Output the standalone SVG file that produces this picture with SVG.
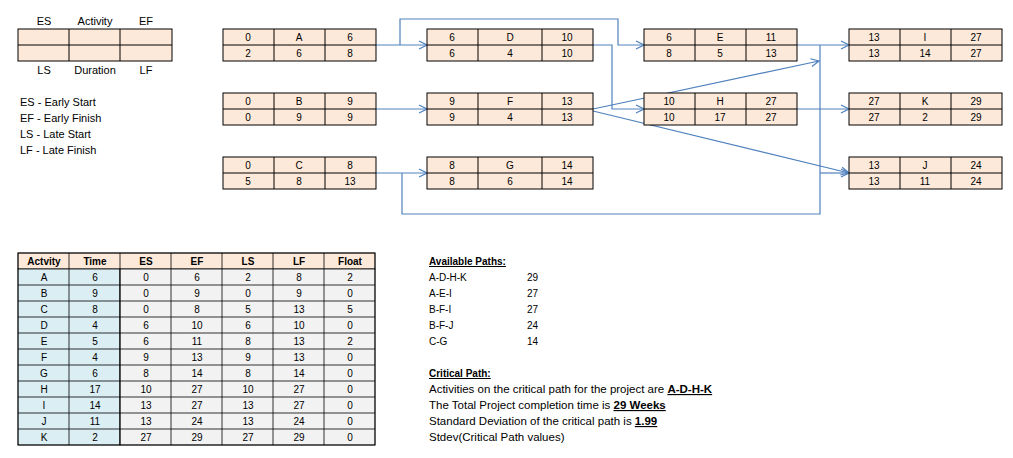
<svg xmlns="http://www.w3.org/2000/svg" width="1013" height="458" viewBox="0 0 1013 458">
<style>
text{font-family:"Liberation Sans",Arial,sans-serif;font-size:10px;fill:#000}
.c{text-anchor:middle}
.n rect{fill:#fde9d9;stroke:#000;stroke-width:1}
.n line{stroke:#000;stroke-width:1}
.e{fill:none;stroke:#4f81bd;stroke-width:1.2}
.t rect{stroke:#000;stroke-width:0.8}
.b{font-weight:bold;text-decoration:underline}
.m{font-size:11.5px}
.l{font-size:11px}
</style>
<defs>
<marker id="ar" markerWidth="10" markerHeight="10" refX="9" refY="5" orient="auto" markerUnits="userSpaceOnUse">
<path d="M1,1 L9,5 L1,9" fill="none" stroke="#4f81bd" stroke-width="1.2"/>
</marker>
</defs>
<rect width="1013" height="458" fill="#fff"/>

<g id="legend">
<g class="n"><rect x="18" y="29" width="154" height="32"/><line x1="18" y1="45" x2="172" y2="45"/><line x1="69" y1="29" x2="69" y2="61"/><line x1="120" y1="29" x2="120" y2="61"/></g>
<text class="c l" x="44" y="25">ES</text><text class="c l" x="95" y="25">Activity</text><text class="c l" x="146" y="25">EF</text>
<text class="c l" x="44" y="74">LS</text><text class="c l" x="95" y="74">Duration</text><text class="c l" x="146" y="74">LF</text>
<text class="l" x="20" y="106">ES - Early Start</text>
<text class="l" x="20" y="122">EF - Early Finish</text>
<text class="l" x="20" y="138">LS - Late Start</text>
<text class="l" x="20" y="154">LF - Late Finish</text>
</g>

<g id="connectors">
<path class="e" d="M376,45 H427" marker-end="url(#ar)"/>
<path class="e" d="M400,45 V19 H618 V45 H644" marker-end="url(#ar)"/>
<path class="e" d="M376,109 H427" marker-end="url(#ar)"/>
<path class="e" d="M376,173 H427" marker-end="url(#ar)"/>
<path class="e" d="M402,173 V214 H820 V45"/>
<path class="e" d="M797,45 H849" marker-end="url(#ar)"/>
<path class="e" d="M820,173 H849" marker-end="url(#ar)"/>
<path class="e" d="M593,45 H612 V109 H644" marker-end="url(#ar)"/>
<path class="e" d="M593,109 L819,61" marker-end="url(#ar)"/>
<path class="e" d="M593,111 L849,173" marker-end="url(#ar)"/>
<path class="e" d="M797,109 H849" marker-end="url(#ar)"/>
</g>

<g id="nodeA" class="n"><rect x="223" y="29" width="153" height="32"/><line x1="223" y1="45" x2="376" y2="45"/><line x1="274" y1="29" x2="274" y2="61"/><line x1="325" y1="29" x2="325" y2="61"/>
<text class="c" x="248" y="41">0</text><text class="c" x="299" y="41">A</text><text class="c" x="350" y="41">6</text><text class="c" x="248" y="57">2</text><text class="c" x="299" y="57">6</text><text class="c" x="350" y="57">8</text></g>
<g id="nodeB" class="n"><rect x="223" y="93" width="153" height="32"/><line x1="223" y1="109" x2="376" y2="109"/><line x1="274" y1="93" x2="274" y2="125"/><line x1="325" y1="93" x2="325" y2="125"/>
<text class="c" x="248" y="105">0</text><text class="c" x="299" y="105">B</text><text class="c" x="350" y="105">9</text><text class="c" x="248" y="121">0</text><text class="c" x="299" y="121">9</text><text class="c" x="350" y="121">9</text></g>
<g id="nodeC" class="n"><rect x="223" y="157" width="153" height="32"/><line x1="223" y1="173" x2="376" y2="173"/><line x1="274" y1="157" x2="274" y2="189"/><line x1="325" y1="157" x2="325" y2="189"/>
<text class="c" x="248" y="169">0</text><text class="c" x="299" y="169">C</text><text class="c" x="350" y="169">8</text><text class="c" x="248" y="185">5</text><text class="c" x="299" y="185">8</text><text class="c" x="350" y="185">13</text></g>

<g id="nodeD" class="n"><rect x="427" y="29" width="166" height="32"/><line x1="427" y1="45" x2="593" y2="45"/><line x1="478" y1="29" x2="478" y2="61"/><line x1="542" y1="29" x2="542" y2="61"/>
<text class="c" x="452" y="41">6</text><text class="c" x="510" y="41">D</text><text class="c" x="567" y="41">10</text><text class="c" x="452" y="57">6</text><text class="c" x="510" y="57">4</text><text class="c" x="567" y="57">10</text></g>
<g id="nodeF" class="n"><rect x="427" y="93" width="166" height="32"/><line x1="427" y1="109" x2="593" y2="109"/><line x1="478" y1="93" x2="478" y2="125"/><line x1="542" y1="93" x2="542" y2="125"/>
<text class="c" x="452" y="105">9</text><text class="c" x="510" y="105">F</text><text class="c" x="567" y="105">13</text><text class="c" x="452" y="121">9</text><text class="c" x="510" y="121">4</text><text class="c" x="567" y="121">13</text></g>
<g id="nodeG" class="n"><rect x="427" y="157" width="166" height="32"/><line x1="427" y1="173" x2="593" y2="173"/><line x1="478" y1="157" x2="478" y2="189"/><line x1="542" y1="157" x2="542" y2="189"/>
<text class="c" x="452" y="169">8</text><text class="c" x="510" y="169">G</text><text class="c" x="567" y="169">14</text><text class="c" x="452" y="185">8</text><text class="c" x="510" y="185">6</text><text class="c" x="567" y="185">14</text></g>

<g id="nodeE" class="n"><rect x="644" y="29" width="153" height="32"/><line x1="644" y1="45" x2="797" y2="45"/><line x1="695" y1="29" x2="695" y2="61"/><line x1="746" y1="29" x2="746" y2="61"/>
<text class="c" x="669" y="41">6</text><text class="c" x="720" y="41">E</text><text class="c" x="771" y="41">11</text><text class="c" x="669" y="57">8</text><text class="c" x="720" y="57">5</text><text class="c" x="771" y="57">13</text></g>
<g id="nodeH" class="n"><rect x="644" y="93" width="153" height="32"/><line x1="644" y1="109" x2="797" y2="109"/><line x1="695" y1="93" x2="695" y2="125"/><line x1="746" y1="93" x2="746" y2="125"/>
<text class="c" x="669" y="105">10</text><text class="c" x="720" y="105">H</text><text class="c" x="771" y="105">27</text><text class="c" x="669" y="121">10</text><text class="c" x="720" y="121">17</text><text class="c" x="771" y="121">27</text></g>

<g id="nodeI" class="n"><rect x="849" y="29" width="153" height="32"/><line x1="849" y1="45" x2="1002" y2="45"/><line x1="900" y1="29" x2="900" y2="61"/><line x1="951" y1="29" x2="951" y2="61"/>
<text class="c" x="874" y="41">13</text><text class="c" x="925" y="41">I</text><text class="c" x="976" y="41">27</text><text class="c" x="874" y="57">13</text><text class="c" x="925" y="57">14</text><text class="c" x="976" y="57">27</text></g>
<g id="nodeK" class="n"><rect x="849" y="93" width="153" height="32"/><line x1="849" y1="109" x2="1002" y2="109"/><line x1="900" y1="93" x2="900" y2="125"/><line x1="951" y1="93" x2="951" y2="125"/>
<text class="c" x="874" y="105">27</text><text class="c" x="925" y="105">K</text><text class="c" x="976" y="105">29</text><text class="c" x="874" y="121">27</text><text class="c" x="925" y="121">2</text><text class="c" x="976" y="121">29</text></g>
<g id="nodeJ" class="n"><rect x="849" y="157" width="153" height="32"/><line x1="849" y1="173" x2="1002" y2="173"/><line x1="900" y1="157" x2="900" y2="189"/><line x1="951" y1="157" x2="951" y2="189"/>
<text class="c" x="874" y="169">13</text><text class="c" x="925" y="169">J</text><text class="c" x="976" y="169">24</text><text class="c" x="874" y="185">13</text><text class="c" x="925" y="185">11</text><text class="c" x="976" y="185">24</text></g>

<g id="table" class="t">
<rect x="18" y="253" width="357" height="16" fill="#fde9d9"/>
<rect x="18" y="269" width="102" height="176" fill="#daeef3"/>
<rect x="120" y="269" width="255" height="176" fill="#f2f2f2"/>
<path d="M18,285H375M18,301H375M18,317H375M18,333H375M18,349H375M18,365H375M18,381H375M18,397H375M18,413H375M18,429H375M69,253V445M120,253V445M171,253V445M222,253V445M273,253V445M324,253V445" stroke="#000" stroke-width="0.8" fill="none"/>
<rect x="18" y="253" width="357" height="192" fill="none" stroke="#000" stroke-width="1"/>
<text class="c" x="44" y="265" font-weight="bold">Actvity</text><text class="c" x="95" y="265" font-weight="bold">Time</text><text class="c" x="146" y="265" font-weight="bold">ES</text><text class="c" x="197" y="265" font-weight="bold">EF</text><text class="c" x="248" y="265" font-weight="bold">LS</text><text class="c" x="299" y="265" font-weight="bold">LF</text><text class="c" x="350" y="265" font-weight="bold">Float</text>
<text class="c" x="44" y="281">A</text><text class="c" x="95" y="281">6</text><text class="c" x="146" y="281">0</text><text class="c" x="197" y="281">6</text><text class="c" x="248" y="281">2</text><text class="c" x="299" y="281">8</text><text class="c" x="350" y="281">2</text>
<text class="c" x="44" y="297">B</text><text class="c" x="95" y="297">9</text><text class="c" x="146" y="297">0</text><text class="c" x="197" y="297">9</text><text class="c" x="248" y="297">0</text><text class="c" x="299" y="297">9</text><text class="c" x="350" y="297">0</text>
<text class="c" x="44" y="313">C</text><text class="c" x="95" y="313">8</text><text class="c" x="146" y="313">0</text><text class="c" x="197" y="313">8</text><text class="c" x="248" y="313">5</text><text class="c" x="299" y="313">13</text><text class="c" x="350" y="313">5</text>
<text class="c" x="44" y="329">D</text><text class="c" x="95" y="329">4</text><text class="c" x="146" y="329">6</text><text class="c" x="197" y="329">10</text><text class="c" x="248" y="329">6</text><text class="c" x="299" y="329">10</text><text class="c" x="350" y="329">0</text>
<text class="c" x="44" y="345">E</text><text class="c" x="95" y="345">5</text><text class="c" x="146" y="345">6</text><text class="c" x="197" y="345">11</text><text class="c" x="248" y="345">8</text><text class="c" x="299" y="345">13</text><text class="c" x="350" y="345">2</text>
<text class="c" x="44" y="361">F</text><text class="c" x="95" y="361">4</text><text class="c" x="146" y="361">9</text><text class="c" x="197" y="361">13</text><text class="c" x="248" y="361">9</text><text class="c" x="299" y="361">13</text><text class="c" x="350" y="361">0</text>
<text class="c" x="44" y="377">G</text><text class="c" x="95" y="377">6</text><text class="c" x="146" y="377">8</text><text class="c" x="197" y="377">14</text><text class="c" x="248" y="377">8</text><text class="c" x="299" y="377">14</text><text class="c" x="350" y="377">0</text>
<text class="c" x="44" y="393">H</text><text class="c" x="95" y="393">17</text><text class="c" x="146" y="393">10</text><text class="c" x="197" y="393">27</text><text class="c" x="248" y="393">10</text><text class="c" x="299" y="393">27</text><text class="c" x="350" y="393">0</text>
<text class="c" x="44" y="409">I</text><text class="c" x="95" y="409">14</text><text class="c" x="146" y="409">13</text><text class="c" x="197" y="409">27</text><text class="c" x="248" y="409">13</text><text class="c" x="299" y="409">27</text><text class="c" x="350" y="409">0</text>
<text class="c" x="44" y="425">J</text><text class="c" x="95" y="425">11</text><text class="c" x="146" y="425">13</text><text class="c" x="197" y="425">24</text><text class="c" x="248" y="425">13</text><text class="c" x="299" y="425">24</text><text class="c" x="350" y="425">0</text>
<text class="c" x="44" y="441">K</text><text class="c" x="95" y="441">2</text><text class="c" x="146" y="441">27</text><text class="c" x="197" y="441">29</text><text class="c" x="248" y="441">27</text><text class="c" x="299" y="441">29</text><text class="c" x="350" y="441">0</text>
</g>

<g id="notes">
<text x="429" y="265" class="b">Available Paths:</text>
<text x="429" y="281">A-D-H-K</text><text x="527" y="281">29</text>
<text x="429" y="297">A-E-I</text><text x="527" y="297">27</text>
<text x="429" y="313">B-F-I</text><text x="527" y="313">27</text>
<text x="429" y="329">B-F-J</text><text x="527" y="329">24</text>
<text x="429" y="345">C-G</text><text x="527" y="345">14</text>
<text x="429" y="377" class="b">Critical Path:</text>
<text x="429" y="393" class="m">Activities on the critical path for the project are <tspan class="b">A-D-H-K</tspan></text>
<text x="429" y="409" class="m">The Total Project completion time is <tspan class="b">29 Weeks</tspan></text>
<text x="429" y="425" class="m">Standard Deviation of the critical path is <tspan class="b">1.99</tspan></text>
<text x="429" y="441" class="m">Stdev(Critical Path values)</text>
</g>
</svg>
